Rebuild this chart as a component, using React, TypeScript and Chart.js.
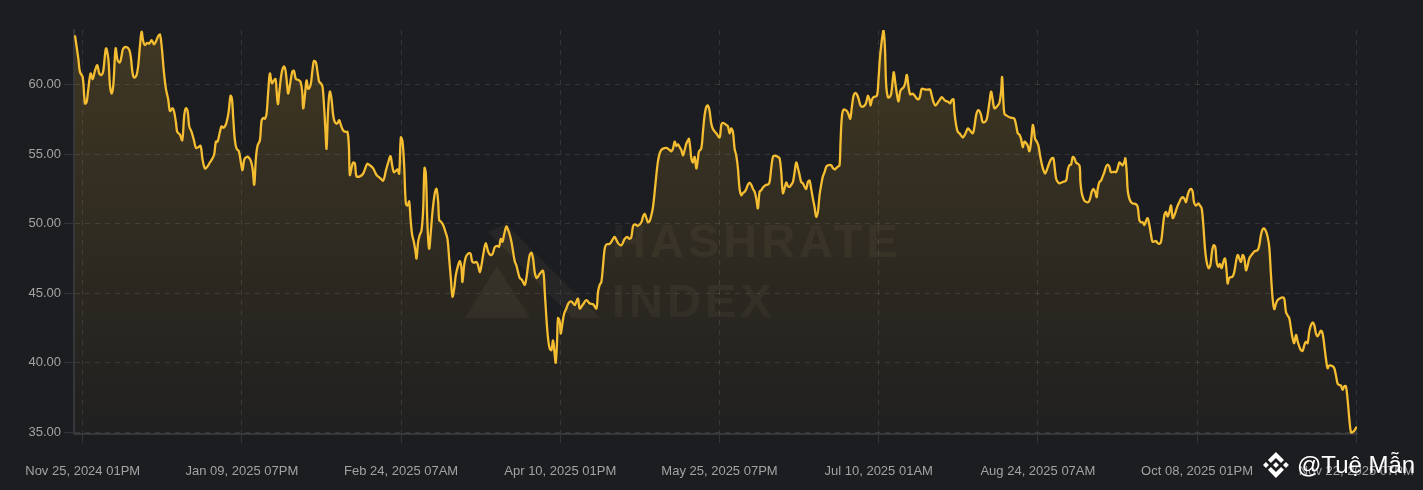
import React, { useEffect, useRef } from "react";
import { Chart, registerables } from "chart.js";

Chart.register(...registerables);

// Days relative to Nov 25, 2024 01PM
const dayOffsets: number[] = [
  -2.19, -1.24, -0.77, -0.01, 0.65, 1.12, 1.6, 2.26, 2.83, 3.49, 4.16, 4.72, 5.39, 5.86, 6.62, 7.28, 7.75, 8.23, 8.7, 9.36,
  9.93, 10.59, 11.07, 11.54, 12.49, 13.25, 13.72, 14.19, 14.67, 15.33, 15.8, 16.28, 16.75, 17.22, 17.7, 18.36, 18.93, 19.59, 20.25, 20.82,
  21.48, 21.96, 22.43, 23.09, 23.66, 24.33, 24.8, 25.56, 26.03, 26.5, 26.88, 27.64, 28.3, 28.87, 29.34, 29.82, 30.29, 30.95, 31.62, 32.19,
  32.85, 33.51, 34.08, 34.74, 35.41, 36.16, 36.92, 37.39, 37.87, 38.34, 39.0, 39.48, 39.95, 40.42, 40.9, 41.46, 42.03, 42.41, 42.79, 43.26,
  43.74, 44.4, 44.97, 45.44, 45.92, 46.58, 47.24, 47.81, 48.28, 48.76, 49.23, 49.7, 50.37, 50.84, 51.31, 51.79, 52.26, 52.73, 53.21, 53.78,
  54.34, 54.82, 55.1, 55.48, 55.86,
  56.52, 57.19, 57.66, 58.13, 58.42, 58.89, 59.55, 60.03, 60.6, 61.26, 61.92, 62.39, 62.68, 63.15, 63.63, 64.1, 64.76, 65.24, 65.71, 66.28,
  66.75, 67.22, 67.7, 68.17, 68.64, 69.02, 69.31, 69.78, 70.25, 70.73, 71.2, 71.68, 72.34, 72.91, 73.38, 74.04, 74.8, 75.27, 75.65, 75.94,
  76.41, 76.88, 77.36, 77.83, 78.78, 79.72, 80.86, 81.62, 82.57, 83.51, 84.46, 85.41, 86.16, 86.83, 87.49, 87.96, 88.44, 89.0, 89.48, 89.95,
  90.43, 90.9, 91.37, 91.85, 92.32, 92.79, 93.17, 93.64, 94.12, 94.59, 94.88, 95.35, 95.82, 96.3, 96.77, 97.15, 97.53, 98.0, 98.47, 98.95,
  99.42, 100.08, 100.56, 101.03, 101.32, 101.79, 102.45, 103.11, 103.68, 104.16, 104.63, 105.1, 105.58, 106.05, 106.71, 107.19, 107.66, 107.94, 108.42, 108.89,
  109.55, 110.22, 110.69, 111.26, 111.92, 112.39, 112.87, 113.34, 114.0, 114.57, 115.24, 115.9,
  116.46, 117.12, 117.78, 118.35, 118.83, 119.3, 119.77, 120.43, 120.91, 121.38, 121.86, 122.33, 122.8, 123.28, 123.75, 124.22, 124.7, 125.17, 125.64, 126.12,
  126.59, 127.06, 127.54, 128.01, 128.48, 128.96, 129.43, 129.9, 130.85, 131.33, 131.8, 132.27, 132.75, 133.22, 133.69, 134.17, 134.45, 134.83, 135.11, 135.59,
  135.87, 136.34, 136.82, 137.48, 138.14, 138.9, 139.85, 140.32, 140.79, 141.27, 142.22, 143.16, 144.11, 145.06, 146.0, 146.48, 146.95, 147.42, 147.9, 148.37,
  148.84, 149.79, 150.74, 151.21, 152.16, 153.11, 154.05, 154.72, 155.47, 155.95, 156.42, 156.89, 157.84, 158.79, 159.26, 159.73, 160.21, 160.68, 161.15, 161.63,
  162.1, 162.58, 163.05, 163.52, 164.0, 164.47, 164.94, 165.89, 166.84, 167.31, 167.78, 168.26, 168.73, 169.2, 169.68, 170.15, 170.62, 171.1, 171.57, 172.04,
  172.33, 172.71, 172.99, 173.47, 173.94, 174.41, 174.89, 175.17,
  175.82, 176.3, 176.77, 177.24, 177.72, 178.19, 178.66, 179.14, 180.08, 181.03, 181.51, 181.98, 182.93, 183.4, 183.87, 184.35, 184.82, 185.29, 185.77, 186.24,
  186.71, 187.19, 187.66, 188.13, 188.61, 189.08, 189.55, 190.03, 190.5, 190.97, 191.45, 191.92, 192.4, 192.87, 193.34, 194.29, 194.76, 195.24, 195.71, 196.18,
  196.66, 197.6, 198.08, 198.55, 199.02, 199.5, 199.97, 200.44, 200.92, 201.39, 201.87, 202.34, 202.81, 203.29, 203.76, 204.23, 204.71, 205.18, 205.65, 206.13,
  206.6, 207.07, 207.55, 208.02, 208.49, 208.97, 209.44, 209.91, 210.39, 210.86, 211.34, 211.81, 212.76, 213.23, 213.7, 214.18, 214.65, 215.12, 215.41, 215.79,
  216.26, 217.21, 217.68, 218.15, 218.63, 219.1, 219.57, 220.05, 220.52, 221.0, 221.47, 222.41, 222.89, 223.17, 223.65, 223.93, 224.31, 224.78, 225.73, 226.2,
  226.58, 226.96, 227.34, 227.62, 228.0, 228.38, 228.85, 229.33, 229.8, 230.27, 230.56, 230.94, 231.41, 231.88, 232.36, 232.83, 233.31, 233.78, 234.25, 234.73,
  235.2,
  235.95, 237.08, 237.65, 238.03, 238.5, 239.45, 240.4, 240.87, 241.34, 241.82, 242.39, 243.05, 243.71, 244.19, 245.13, 246.08, 246.55, 247.03, 247.5, 247.78,
  248.26, 248.73, 249.2, 250.15, 250.63, 251.1, 251.57, 252.05, 252.99, 253.47, 253.94, 254.41, 254.89, 255.36, 255.83, 256.78, 257.25, 257.73, 258.2, 258.67,
  259.15, 260.09, 260.57, 261.04, 261.33, 261.7, 261.99, 262.46, 263.41, 264.36, 264.83, 265.3, 265.78, 266.25, 266.72, 267.2, 267.67, 268.14, 268.62, 269.09,
  269.56, 270.04, 270.32, 270.7, 271.17, 271.65, 272.12, 272.59, 273.07, 273.54, 274.02, 274.49, 274.96, 275.44, 275.91, 276.19, 276.67, 277.14, 277.61, 278.56,
  279.51, 279.98, 280.45, 280.93, 281.4, 281.88, 282.35, 283.3, 283.58, 283.96, 284.43, 284.91, 285.85, 286.33, 286.8, 287.27, 287.75, 288.22, 288.5, 288.98,
  289.45, 289.92, 290.4, 290.87, 291.34, 291.82, 292.29, 293.24, 293.71, 294.19, 294.66,
  295.13, 295.61, 296.08, 296.36, 296.74, 297.03, 297.5, 297.97, 298.45, 299.39, 299.87, 300.34, 300.82, 301.29, 301.76, 302.24, 302.71, 303.18, 303.66, 304.13,
  305.08, 305.55, 306.02, 306.5, 306.97, 307.44, 307.92, 308.39, 308.86, 309.34, 309.81, 310.28, 310.76, 311.23, 311.71, 312.18, 312.65, 313.13, 313.6, 314.07,
  314.55, 315.02, 315.49, 315.87, 316.44, 317.1, 317.58, 318.05, 318.52, 319.0, 319.47, 320.04, 320.51, 320.99, 321.46, 321.93, 322.31, 322.79, 323.26, 323.73,
  324.21, 324.68, 325.15, 325.44, 325.91, 326.86, 327.33, 327.8, 328.28, 328.75, 329.23, 329.7, 330.17, 330.65, 331.12, 331.59, 332.07, 332.54, 333.01, 333.96,
  334.43, 334.91, 335.38, 335.85, 336.33, 336.8, 337.27, 337.75, 338.22, 338.69, 339.17, 339.64, 340.11, 341.06, 341.53, 342.01, 342.48, 342.95, 343.43, 343.9,
  344.37, 344.85, 345.32, 345.8, 346.27, 346.74, 347.22, 347.69, 348.16, 348.64, 349.11, 349.58, 350.06, 350.53, 351.0, 351.48, 351.95, 352.42, 352.9, 353.37,
  353.85, 354.32, 355.27, 355.74, 356.21, 356.69, 357.16, 357.63, 358.11, 358.58, 359.05, 359.53, 360.0, 360.47, 360.95, 361.42, 361.9, 362.18,
];

// Hashprice values (USD/PH/day)
const hashprice: number[] = [
  63.54, 61.87, 60.9, 60.55, 58.64, 58.75, 59.7, 60.8, 60.4, 61.0, 61.4, 60.8, 60.7, 61.0, 62.6, 61.87, 59.95, 59.35, 59.95, 62.6,
  61.75, 61.6, 62.1, 62.6, 62.7, 62.5, 61.9, 60.8, 60.5, 60.7, 61.4, 62.8, 63.8, 63.1, 62.85, 63.0, 62.95, 63.2, 62.9, 63.1,
  63.5, 63.6, 62.8, 60.9, 59.7, 58.9, 58.1, 58.3, 58.0, 57.3, 56.6, 56.4, 56.0, 57.8, 58.3, 58.1, 57.0, 56.6, 56.0, 55.45,
  55.5, 55.6, 54.6, 53.97, 54.1, 54.4, 54.7, 55.0, 55.9, 55.9, 56.6, 57.0, 56.9, 57.0, 57.3, 58.0, 59.2, 59.0, 57.6, 56.0,
  55.4, 55.2, 54.4, 53.85, 54.6, 54.8, 54.75, 54.5, 53.97, 52.8, 54.7, 55.6, 56.0, 57.4, 57.6, 57.55, 57.9, 59.5, 60.8, 60.1,
  60.3, 60.4, 59.6, 58.6, 59.4,
  60.8, 61.3, 61.0, 59.9, 59.35, 59.95, 60.9, 61.0, 60.4, 60.35, 60.2, 59.5, 58.3, 59.2, 60.3, 59.7, 59.95, 60.9, 61.7, 61.6,
  60.9, 60.2, 60.1, 59.85, 58.3, 56.6, 55.4, 58.3, 59.5, 58.95, 57.8, 57.3, 57.2, 57.45, 57.1, 56.7, 56.6, 56.6, 55.6, 53.5,
  54.0, 54.4, 54.35, 53.4, 53.4, 53.6, 54.3, 54.2, 53.97, 53.5, 53.3, 53.1, 53.8, 54.4, 54.85, 54.2, 53.7, 53.8, 53.9, 53.6,
  56.2, 55.9, 54.2, 51.45, 51.3, 51.6, 50.4, 49.2, 48.7, 48.0, 47.5, 48.7, 49.2, 49.5, 50.97, 54.0, 53.6, 49.9, 48.2, 49.4,
  50.85, 52.2, 52.5, 51.6, 50.25, 50.15, 49.9, 49.4, 48.9, 47.5, 46.1, 44.75, 45.3, 46.3, 47.0, 47.3, 46.8, 45.8, 47.0, 47.6,
  47.85, 47.85, 47.3, 47.2, 47.25, 47.0, 46.5, 47.0, 48.0, 48.6, 48.0, 47.75,
  47.8, 48.3, 48.4, 48.35, 48.9, 48.7, 49.2, 49.8, 49.55, 49.2, 48.7, 48.0, 47.3, 47.0, 46.5, 46.1, 46.0, 45.8, 45.6, 46.1,
  47.0, 47.75, 47.9, 47.5, 46.5, 46.1, 46.2, 46.4, 46.6, 45.1, 43.2, 41.75, 41.0, 40.9, 41.6, 40.55, 40.0, 41.5, 43.2, 42.95,
  42.1, 42.8, 43.5, 43.9, 44.3, 44.4, 44.15, 44.4, 44.6, 43.9, 44.2, 44.5, 44.25, 44.2, 43.9, 45.1, 45.6, 45.8, 47.0, 48.2,
  48.5, 48.55, 48.9, 49.05, 48.6, 48.45, 48.9, 49.05, 48.9, 49.05, 49.8, 49.95, 49.85, 50.1, 50.5, 50.7, 50.4, 50.1, 50.2, 50.6,
  51.2, 52.3, 53.5, 54.5, 55.05, 55.3, 55.4, 55.45, 55.3, 55.2, 55.4, 55.9, 55.6, 55.7, 55.5, 55.3, 54.9, 55.3, 55.75, 56.0,
  56.1, 55.4, 54.7, 54.4, 54.8, 53.97, 54.7, 55.2,
  55.4, 56.6, 57.8, 58.4, 58.5, 58.1, 57.2, 56.8, 56.5, 56.2, 57.1, 57.25, 57.1, 57.0, 56.5, 56.85, 56.6, 55.4, 54.9, 53.97,
  52.5, 52.05, 52.2, 52.3, 52.5, 52.8, 52.95, 52.8, 52.5, 52.3, 51.8, 51.1, 52.3, 52.4, 52.6, 52.8, 52.8, 53.0, 54.0, 54.8,
  54.9, 54.8, 54.7, 53.7, 52.2, 52.55, 52.96, 52.7, 52.65, 52.8, 53.0, 53.7, 54.4, 54.0, 53.5, 53.0, 52.9, 52.65, 52.5, 53.0,
  53.1, 52.5, 51.8, 51.2, 50.5, 50.85, 52.05, 52.8, 53.4, 53.7, 54.1, 54.2, 54.2, 54.0, 53.9, 54.0, 54.1, 54.2, 55.9, 57.7,
  58.2, 58.1, 57.85, 57.55, 58.4, 59.2, 59.4, 59.3, 59.0, 58.55, 58.4, 58.55, 58.9, 59.2, 58.9, 58.5, 58.9, 59.1, 59.2, 60.4,
  61.85, 62.8, 63.55, 63.9, 62.8, 59.95, 59.1, 59.1, 59.35, 60.4, 60.9, 60.2, 59.35, 58.8, 59.5, 59.7, 59.8, 60.1, 60.7, 59.85,
  59.3,
  59.35, 59.0, 58.95, 59.2, 59.7, 59.65, 59.65, 59.65, 59.2, 58.75, 58.5, 58.7, 58.95, 59.1, 58.85, 58.75, 58.65, 58.9, 58.95, 58.0,
  57.1, 56.6, 56.5, 56.2, 56.35, 56.6, 56.85, 56.75, 56.5, 57.0, 57.8, 58.15, 58.1, 57.8, 57.3, 57.4, 57.9, 58.75, 59.5, 58.9,
  58.3, 58.5, 58.7, 59.5, 60.55, 58.75, 57.9, 57.8, 57.65, 57.6, 57.55, 57.1, 56.5, 56.4, 56.1, 55.5, 55.9, 55.8, 55.6, 55.2,
  55.9, 57.1, 56.85, 56.1, 55.9, 55.6, 54.9, 54.3, 53.85, 53.6, 53.85, 54.2, 54.5, 54.7, 54.7, 54.2, 53.25, 53.0, 52.9, 53.0,
  53.1, 53.85, 54.2, 54.25, 54.8, 54.7, 54.4, 54.2, 53.0, 52.2, 51.8, 51.6, 51.55, 51.8, 52.3, 52.5, 52.3, 51.9, 52.5, 53.0,
  53.1, 53.4, 53.7, 54.1, 54.25, 54.1, 53.7, 53.75, 53.7, 54.0, 54.4,
  54.3, 54.2, 54.45, 54.7, 53.7, 52.4, 51.8, 51.55, 51.45, 51.4, 51.2, 50.25, 50.1, 50.1, 49.9, 50.2, 50.4, 49.9, 49.2, 48.7,
  48.75, 48.6, 48.55, 48.7, 49.65, 50.6, 50.85, 50.5, 50.85, 51.3, 50.4, 50.6, 50.95, 51.3, 51.55, 51.8, 51.9, 51.8, 51.55, 52.05,
  52.4, 52.5, 52.3, 51.55, 51.3, 51.45, 51.3, 51.1, 49.9, 48.2, 47.25, 46.8, 47.0, 48.0, 48.45, 48.3, 47.25, 46.9, 47.1, 46.8,
  47.25, 47.5, 46.55, 45.7, 46.1, 46.2, 46.55, 47.25, 47.75, 47.5, 47.25, 47.75, 47.5, 46.65, 47.0, 47.5, 47.7, 47.85, 48.0, 48.1,
  48.45, 49.2, 49.6, 49.65, 49.45, 49.05, 48.3, 46.3, 44.6, 43.85, 44.25, 44.5, 44.6, 44.7, 44.6, 43.65, 43.4, 43.2, 42.45, 41.75,
  41.4, 42.0, 41.55, 41.15, 40.9, 40.85, 41.25, 41.5, 41.4, 42.25, 42.7, 42.9, 42.7, 42.1, 41.9, 42.1, 42.3, 42.1, 41.25, 40.3,
  39.6, 39.8, 39.75, 39.6, 39.1, 38.5, 38.4, 38.35, 38.05, 38.3, 38.3, 37.35, 36.0, 35.0, 35.0, 35.1, 35.3, 35.4,
];

const tickDays: number[] = [0, 45.25, 90.5, 135.75, 181, 226.25, 271.5, 316.75, 362];
const tickLabels: string[] = [
  "Nov 25, 2024 01PM",
  "Jan 09, 2025 07PM",
  "Feb 24, 2025 07AM",
  "Apr 10, 2025 01PM",
  "May 25, 2025 07PM",
  "Jul 10, 2025 01AM",
  "Aug 24, 2025 07AM",
  "Oct 08, 2025 01PM",
  "Nov 22, 2025 07PM",
];
const yTicks: number[] = [35, 40, 45, 50, 55, 60];

const FONT = "'Liberation Sans', Arial, Helvetica, sans-serif";
const BG = "#1c1d20";

const watermarkPlugin = {
  id: "watermark",
  beforeDatasetsDraw(chart: any) {
    const ctx = chart.ctx as CanvasRenderingContext2D;
    ctx.save();
    ctx.fillStyle = "rgba(215,200,160,0.055)";
    ctx.beginPath();
    ctx.moveTo(497, 266);
    ctx.lineTo(530, 318);
    ctx.lineTo(465, 318);
    ctx.closePath();
    ctx.fill();
    ctx.beginPath();
    ctx.moveTo(488, 232);
    ctx.lineTo(506, 224);
    ctx.lineTo(600, 318);
    ctx.lineTo(572, 318);
    ctx.closePath();
    ctx.fill();
    ctx.font = `bold 47px ${FONT}`;
    (ctx as any).letterSpacing = "4px";
    ctx.textBaseline = "alphabetic";
    ctx.textAlign = "left";
    ctx.fillText("HASHRATE", 612, 257);
    ctx.fillText("INDEX", 612, 317);
    ctx.restore();
  },
};

export default function App() {
  const canvasRef = useRef<HTMLCanvasElement | null>(null);

  useEffect(() => {
    if (!canvasRef.current) return;
    const points = dayOffsets.map((d, i) => ({ x: d, y: hashprice[i] }));
    const chart = new Chart(canvasRef.current, {
      type: "line",
      data: {
        datasets: [
          {
            label: "Hashprice",
            data: points,
            borderColor: "#f5bd31",
            borderWidth: 2.3,
            pointRadius: 0,
            tension: 0.35,
            fill: "start",
            backgroundColor: (c: any) => {
              const area = c.chart.chartArea;
              if (!area) return "rgba(245,189,49,0.1)";
              const g = c.chart.ctx.createLinearGradient(0, area.top, 0, area.bottom);
              g.addColorStop(0, "rgba(245,189,49,0.17)");
              g.addColorStop(1, "rgba(245,189,49,0.02)");
              return g;
            },
          },
        ],
      },
      options: {
        responsive: false,
        animation: false,
        layout: { padding: { top: 30, right: 66, left: 0, bottom: 0 } },
        plugins: { legend: { display: false }, tooltip: { enabled: false } },
        scales: {
          x: {
            type: "linear",
            min: -2.47,
            max: 362.2,
            afterBuildTicks: (scale: any) => {
              scale.ticks = tickDays.map((v) => ({ value: v }));
            },
            afterFit: (scale: any) => {
              scale.height = 56;
              scale.paddingLeft = 0;
              scale.paddingRight = 0;
            },
            ticks: {
              autoSkip: false,
              maxRotation: 0,
              padding: 21,
              color: "#a3a3a3",
              font: { family: FONT, size: 13 },
              callback: (_v: any, i: number) => tickLabels[i],
            },
            grid: { color: "rgba(255,255,255,0.1)", tickLength: 9, lineWidth: 1 },
            border: { display: true, color: "#36373b", width: 2, dash: [5, 5] },
          },
          y: {
            type: "linear",
            min: 34.87,
            max: 63.93,
            afterBuildTicks: (scale: any) => {
              scale.ticks = yTicks.map((v) => ({ value: v }));
            },
            afterFit: (scale: any) => {
              scale.width = 74;
              scale.paddingTop = 0;
              scale.paddingBottom = 0;
            },
            ticks: {
              padding: 3,
              color: "#a3a3a3",
              font: { family: FONT, size: 13 },
              callback: (v: any) => Number(v).toFixed(2),
            },
            grid: { color: "rgba(255,255,255,0.1)", tickLength: 10, lineWidth: 1 },
            border: { display: true, color: "#36373b", width: 2, dash: [5, 5] },
          },
        },
      },
      plugins: [watermarkPlugin],
    });
    return () => chart.destroy();
  }, []);

  return (
    <div style={{ position: "absolute", left: 0, top: 0, width: 1423, height: 490, background: BG, overflow: "hidden" }}>
      <canvas ref={canvasRef} width={1423} height={490} style={{ display: "block" }} />
      <div
        style={{
          position: "absolute",
          left: 1263,
          top: 451,
          display: "flex",
          alignItems: "center",
          color: "#ffffff",
          fontFamily: FONT,
          fontSize: 24,
          lineHeight: "27px",
          whiteSpace: "nowrap",
        }}
      >
        <svg width="26" height="26" viewBox="0 0 126 126" style={{ marginRight: 8 }}>
          <path
            fill="#ffffff"
            d="M38.171 53.203 62.759 28.616 87.36 53.216 101.667 38.909 62.759 0 23.864 38.896z M0 62.759 14.306 48.453 28.612 62.759 14.306 77.065z M38.171 72.315 62.759 96.902 87.359 72.303 101.674 86.602 62.759 125.518 23.863 86.623z M96.906 62.759 111.212 48.453 125.518 62.759 111.212 77.065z M77.271 62.751 62.759 48.233 48.236 62.756 62.759 77.279z"
          />
        </svg>
        <span>@Tuệ Mẫn</span>
      </div>
    </div>
  );
}
